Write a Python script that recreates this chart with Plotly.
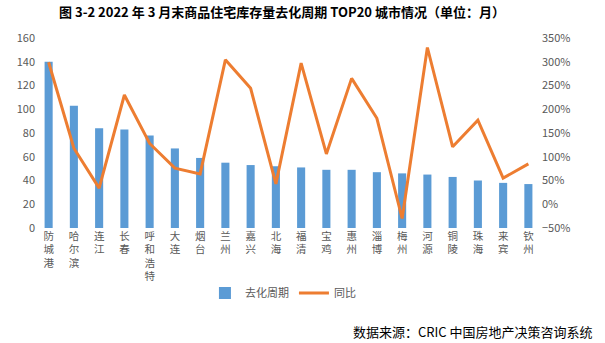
import plotly.graph_objects as go

# Top 20 cities by housing inventory clearance period, end of March 2022
cities = ["防城港", "哈尔滨", "连江", "长春", "呼和浩特", "大连", "烟台", "兰州", "嘉兴", "北海",
          "福清", "宝鸡", "惠州", "淄博", "梅州", "河源", "铜陵", "珠海", "来宾", "钦州"]
months = [140, 103, 84, 83, 78, 67, 59, 55, 53, 52, 51, 49, 49, 47, 46, 45, 43, 40, 38, 37]
yoy_pct = [299, 118, 34, 230, 128, 76, 64, 304, 244, 43, 297, 106, 265, 181, -30, 330, 121, 177, 55, 85]

left_ticks = [0, 20, 40, 60, 80, 100, 120, 140, 160]
right_ticks = [-0.5, 0, 0.5, 1.0, 1.5, 2.0, 2.5, 3.0, 3.5]

BLUE = "#5B9BD5"
ORANGE = "#ED7D31"
GREY = "#595959"
FONT = "Noto Sans CJK SC"

vertical_labels = ["<br>".join(list(c)) for c in cities]

fig = go.Figure()
fig.add_trace(go.Bar(
    x=vertical_labels, y=months, name="去化周期",
    marker=dict(color=BLUE, line=dict(width=0)), width=0.32,
))
fig.add_trace(go.Scatter(
    x=vertical_labels, y=[v / 100 for v in yoy_pct], name="同比",
    mode="lines", line=dict(color=ORANGE, width=3), yaxis="y2",
))

fig.update_layout(
    width=605, height=343,
    margin=dict(l=36, r=64, t=38, b=115),
    paper_bgcolor="white", plot_bgcolor="white",
    font=dict(family=FONT, size=11, color=GREY),
    showlegend=True,
    legend=dict(orientation="h", x=0.489, xanchor="center", y=-0.342, yanchor="middle",
                font=dict(size=11, color=GREY), itemwidth=30, traceorder="normal"),
    title=dict(text="<b>图 3-2 2022 年 3 月末商品住宅库存量去化周期 TOP20 城市情况（单位：月）</b>",
               x=282 / 605, xanchor="center", y=1 - 12 / 343, yanchor="middle",
               font=dict(family=FONT, size=13, color="black")),
    xaxis=dict(showgrid=False, showline=False, ticks="", tickangle=0,
               tickfont=dict(size=10.5, color=GREY)),
    yaxis=dict(range=[0, 160], tickvals=left_ticks, showgrid=False, zeroline=False,
               showline=False, ticks="", tickfont=dict(size=11, color=GREY)),
    yaxis2=dict(range=[-0.5, 3.5], tickvals=right_ticks, tickformat=".0%", overlaying="y",
                side="right", showgrid=False, zeroline=False, showline=False, ticks="",
                tickfont=dict(size=11, color=GREY)),
    annotations=[dict(text="数据来源：CRIC 中国房地产决策咨询系统", xref="paper", yref="paper",
                      x=(595 - 36) / 505, y=-(331 - 228) / 190, xanchor="right", yanchor="middle",
                      showarrow=False, font=dict(family=FONT, size=13, color="black"))],
)

fig.write_html("out.html")
